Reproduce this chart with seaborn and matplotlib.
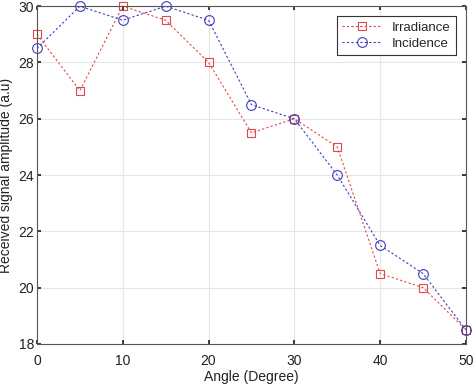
import matplotlib
matplotlib.use("Agg")
import matplotlib.pyplot as plt
import seaborn as sns
import pandas as pd

angles = [0, 5, 10, 15, 20, 25, 30, 35, 40, 45, 50]
irradiance = [29, 27, 30, 29.5, 28, 25.5, 26, 25, 20.5, 20, 18.5]
incidence = [28.5, 30, 29.5, 30, 29.5, 26.5, 26, 24, 21.5, 20.5, 18.5]
xticks = [0, 10, 20, 30, 40, 50]
yticks = [18, 20, 22, 24, 26, 28, 30]

sns.set_theme(style="whitegrid")
plt.rcParams['font.family'] = ['Liberation Sans', 'DejaVu Sans']

df = pd.DataFrame({"Angle": angles * 2,
                   "Value": irradiance + incidence,
                   "Series": ["Irradiance"] * len(angles) + ["Incidence"] * len(angles)})

fig = plt.figure(figsize=(4.74, 3.86), dpi=100)
ax = fig.add_axes([0.078, 0.109, 0.905, 0.875])

colors = {"Irradiance": "#e04848", "Incidence": "#3c3cc0"}
markers = {"Irradiance": "s", "Incidence": "o"}
for name in ["Irradiance", "Incidence"]:
    sub = df[df["Series"] == name]
    sns.lineplot(data=sub, x="Angle", y="Value", ax=ax, color=colors[name],
                 linestyle=(0, (2, 2)), linewidth=0.8, marker=markers[name],
                 markersize=7 if name == "Incidence" else 6,
                 markerfacecolor="none", markeredgecolor=colors[name],
                 markeredgewidth=0.8, label=name, clip_on=False)

ax.set_xlim(0, 50)
ax.set_ylim(18, 30)
ax.set_xticks(xticks)
ax.set_yticks(yticks)
ax.set_facecolor("white")
ax.grid(True, color="#e6e6e6", linewidth=0.8)
for s in ax.spines.values():
    s.set_color("#555555")
    s.set_linewidth(0.8)
ax.tick_params(axis="both", labelsize=10, colors="#222222", length=3, direction="in",
               top=True, right=True, bottom=True, left=True)
ax.tick_params(axis="x", pad=7)
ax.tick_params(axis="y", pad=2)
ax.set_xlabel("Angle (Degree)", fontsize=10, color="#222222")
ax.set_ylabel("Received signal amplitude (a.u)", fontsize=10, color="#222222")
ax.xaxis.set_label_coords(0.5, -0.078)
ax.yaxis.set_label_coords(-0.056, 0.5)
leg = ax.legend(loc="upper right", fontsize=9.5, frameon=True, fancybox=False,
                edgecolor="#333333", framealpha=1, borderaxespad=0.75,
                handlelength=3.0, labelspacing=0.3)
leg.get_frame().set_linewidth(0.8)

fig.savefig("out.png", dpi=100)
